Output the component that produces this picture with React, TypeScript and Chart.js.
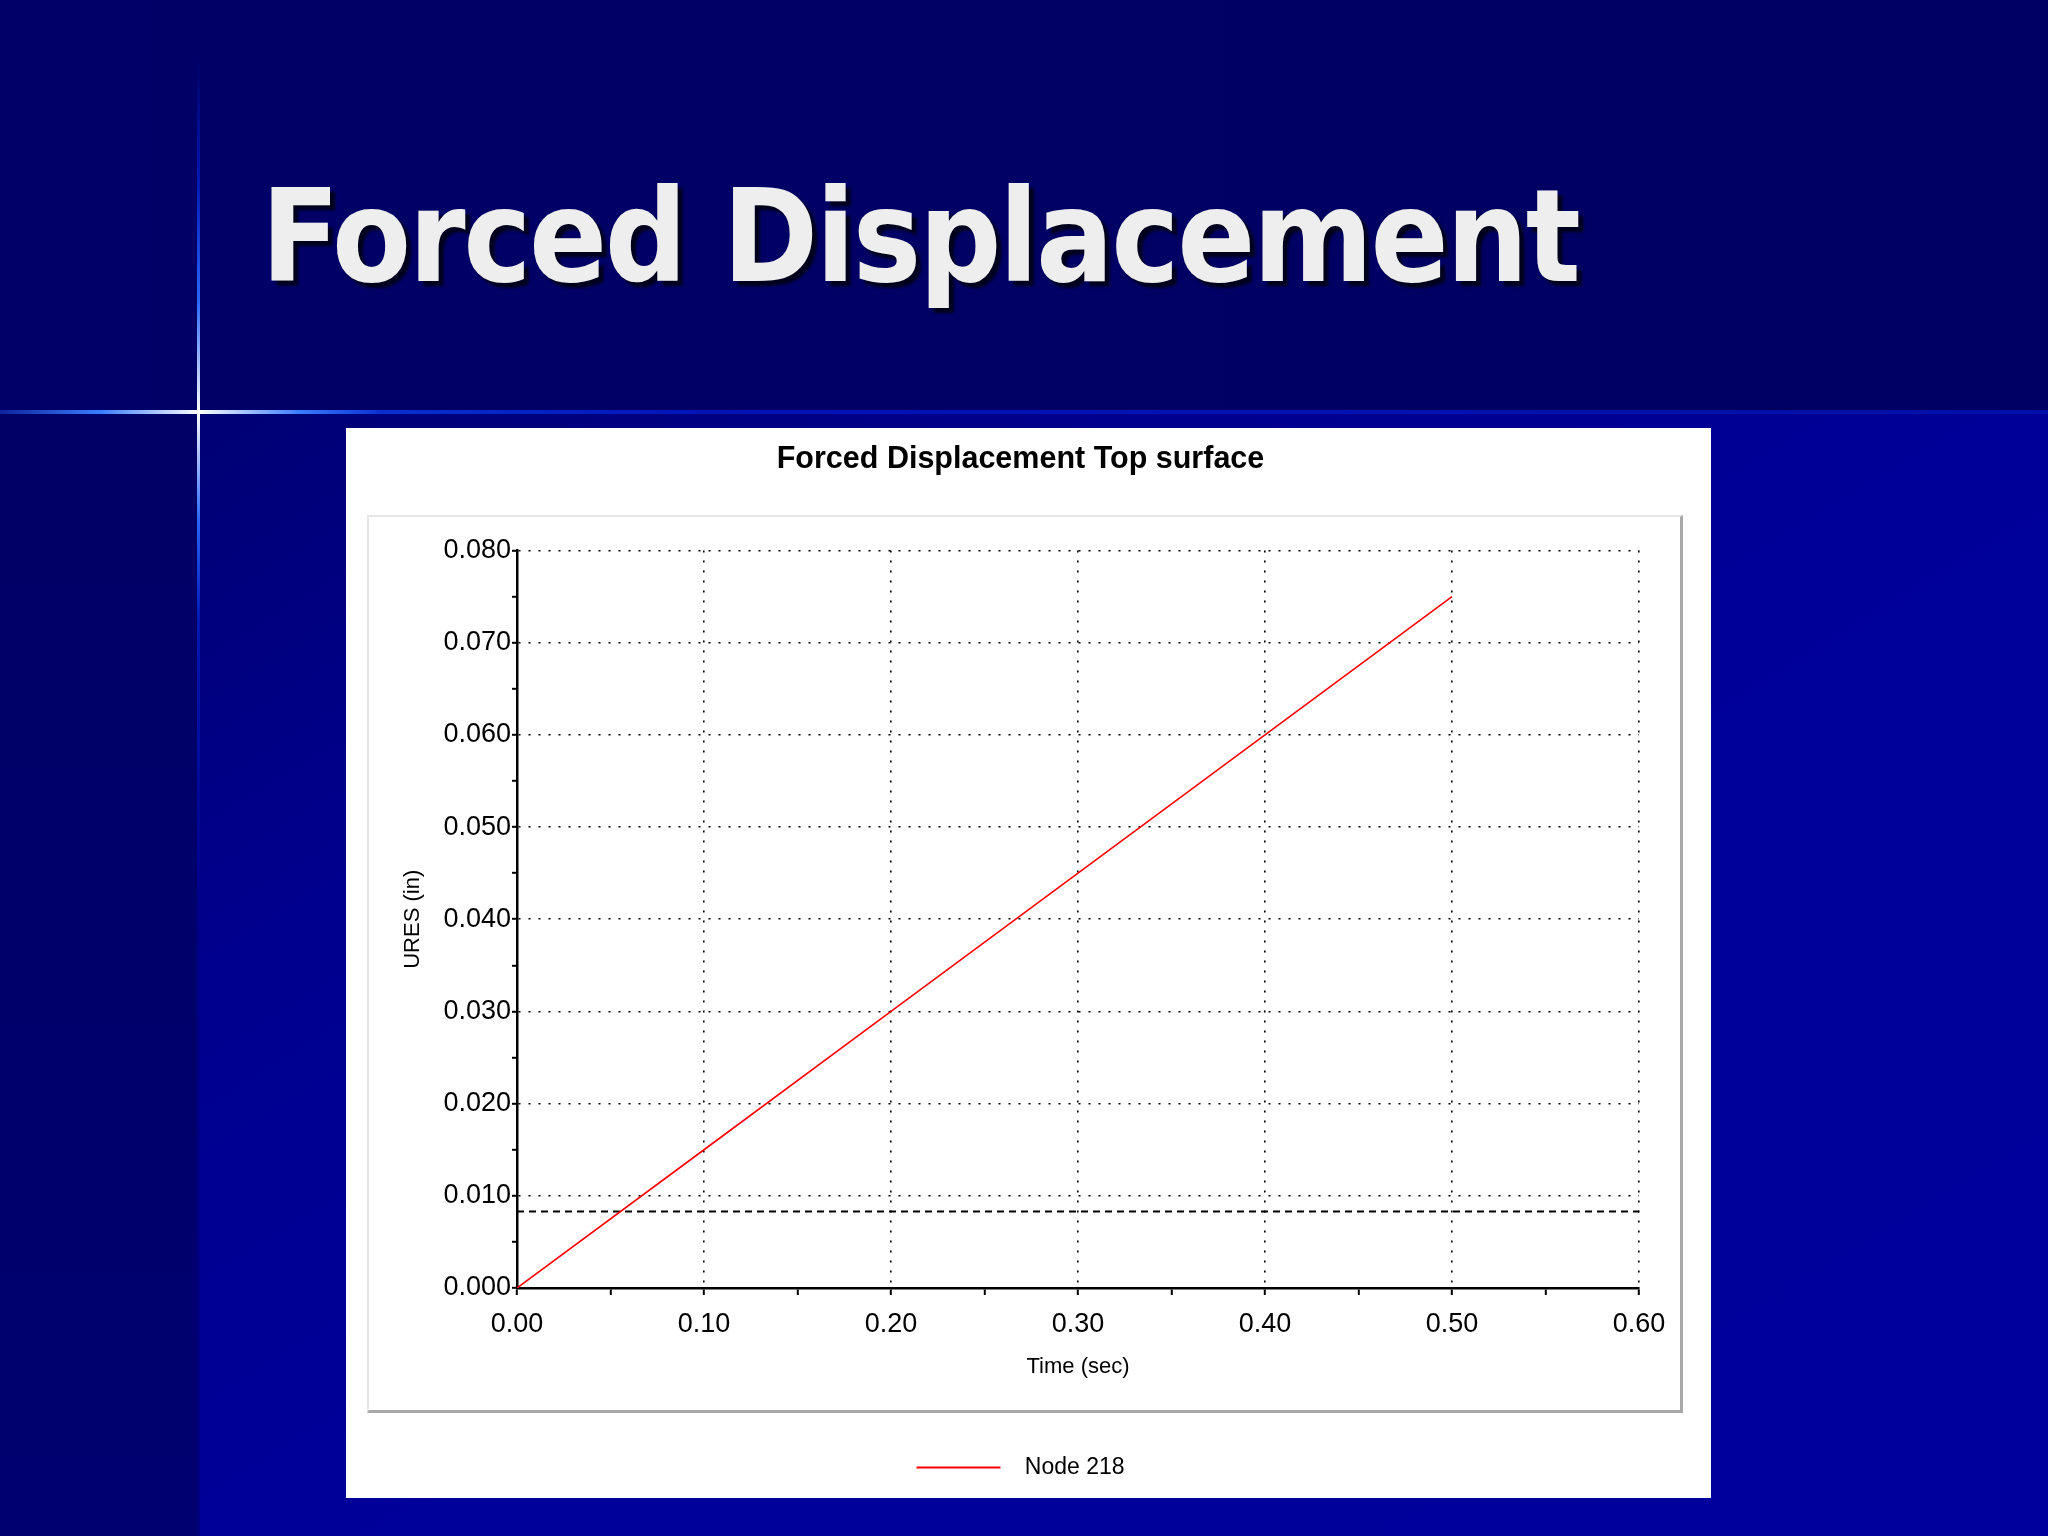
import React, { useEffect, useRef } from 'react';
import { Chart, registerables } from 'chart.js';

Chart.register(...registerables);

// ---- data ----
const TIME_SEC = [0, 0.1, 0.2, 0.3, 0.4, 0.5];
const URES_IN = [0, 0.015, 0.03, 0.045, 0.06, 0.075];
const LIMIT_X = [0, 0.6];
const LIMIT_Y = [0.0083, 0.0083];

const X_TICKS = [0, 0.05, 0.1, 0.15, 0.2, 0.25, 0.3, 0.35, 0.4, 0.45, 0.5, 0.55, 0.6];
const X_MAJOR = [0, 0.1, 0.2, 0.3, 0.4, 0.5, 0.6];
const Y_TICKS = [0, 0.005, 0.01, 0.015, 0.02, 0.025, 0.03, 0.035, 0.04, 0.045, 0.05, 0.055, 0.06, 0.065, 0.07, 0.075, 0.08];
const Y_MAJOR = [0, 0.01, 0.02, 0.03, 0.04, 0.05, 0.06, 0.07, 0.08];

const SERIES_LABEL = 'Node 218';
const CHART_TITLE = 'Forced Displacement Top surface';
const X_TITLE = 'Time (sec)';
const Y_TITLE = 'URES (in)';
const SLIDE_TITLE = 'Forced Displacement';

const isIn = (list: number[], v: number) => list.some((m) => Math.abs(m - v) < 1e-9);

const FONT = "'Liberation Sans', Arial, sans-serif";

export default function App() {
  const ref = useRef<HTMLCanvasElement>(null);

  useEffect(() => {
    if (!ref.current) return;
    const chart = new Chart(ref.current, {
      type: 'line',
      data: {
        datasets: [
          {
            label: SERIES_LABEL,
            data: TIME_SEC.map((t, i) => ({ x: t, y: URES_IN[i] })),
            borderColor: '#ff0000',
            backgroundColor: '#ff0000',
            borderWidth: 1.6,
            pointRadius: 0,
            tension: 0,
          },
          {
            label: 'limit',
            data: LIMIT_X.map((t, i) => ({ x: t, y: LIMIT_Y[i] })),
            borderColor: '#000000',
            backgroundColor: '#000000',
            borderWidth: 2,
            borderDash: [7, 5],
            pointRadius: 0,
            tension: 0,
          },
        ],
      },
      options: {
        responsive: false,
        animation: false,
        devicePixelRatio: 1,
        layout: { padding: { left: 56, right: 72, top: 0, bottom: 9 } },
        plugins: {
          title: {
            display: true,
            text: CHART_TITLE,
            color: '#000',
            font: { family: FONT, size: 30.5, weight: 'bold' },
            padding: { top: 13, bottom: 73 },
          },
          legend: {
            display: true,
            position: 'bottom',
            labels: {
              color: '#000',
              font: { family: FONT, size: 23 },
              boxWidth: 84,
              boxHeight: 2,
              padding: 10,
              generateLabels: () => [
                {
                  text: '  ' + SERIES_LABEL,
                  fillStyle: '#ff0000',
                  strokeStyle: '#ff0000',
                  lineWidth: 0,
                  hidden: false,
                  datasetIndex: 0,
                  fontColor: '#000',
                },
              ],
            },
          },
          tooltip: { enabled: false },
        },
        scales: {
          x: {
            type: 'linear',
            min: 0,
            max: 0.6,
            afterBuildTicks: (axis: any) => {
              axis.ticks = X_TICKS.map((v) => ({ value: v }));
            },
            afterFit: (axis: any) => {
              axis.height = 158;
            },
            ticks: {
              autoSkip: false,
              maxRotation: 0,
              color: '#000',
              font: { family: FONT, size: 27 },
              padding: 13,
              callback: (v: any) => (isIn(X_MAJOR, Number(v)) ? Number(v).toFixed(2) : ''),
            },
            grid: {
              color: (ctx: any) => (ctx.tick && isIn(X_MAJOR, ctx.tick.value) ? '#000' : 'rgba(0,0,0,0)'),
              lineWidth: 1.6,
              tickColor: '#000',
              tickLength: 7,
              tickWidth: 2,
            },
            border: { display: true, color: '#000', width: 2.5, dash: [2, 8] },
            title: {
              display: true,
              text: X_TITLE,
              color: '#000',
              font: { family: FONT, size: 22 },
              padding: { top: 0, bottom: 66 },
            },
          },
          y: {
            type: 'linear',
            min: 0,
            max: 0.08,
            afterBuildTicks: (axis: any) => {
              axis.ticks = Y_TICKS.map((v) => ({ value: v }));
            },
            afterFit: (axis: any) => {
              axis.width = 115;
            },
            ticks: {
              autoSkip: false,
              color: '#000',
              font: { family: FONT, size: 27 },
              padding: 1,
              callback: (v: any) => (isIn(Y_MAJOR, Number(v)) ? Number(v).toFixed(3) : ''),
            },
            grid: {
              color: (ctx: any) => (ctx.tick && isIn(Y_MAJOR, ctx.tick.value) ? '#000' : 'rgba(0,0,0,0)'),
              lineWidth: 1.6,
              tickColor: '#000',
              tickLength: 5,
              tickWidth: 2,
            },
            border: { display: true, color: '#000', width: 2.5, dash: [2, 8] },
            title: {
              display: true,
              text: Y_TITLE,
              color: '#000',
              font: { family: FONT, size: 22 },
              padding: { top: -2, bottom: 0 },
            },
          },
        },
      } as any,
    });
    return () => chart.destroy();
  }, []);

  return (
    <div
      style={{
        position: 'fixed',
        left: 0,
        top: 0,
        width: 2048,
        height: 1536,
        overflow: 'hidden',
        background: '#000066',
      }}
    >
      {/* top band */}
      <div
        style={{
          position: 'absolute',
          left: 0,
          top: 0,
          width: 2048,
          height: 412,
          background: 'linear-gradient(to right, #000068, #000062)',
        }}
      />
      {/* lower main area */}
      <div
        style={{
          position: 'absolute',
          left: 198,
          top: 412,
          width: 1850,
          height: 1124,
          background: 'linear-gradient(to bottom right, #000074 0%, #00008e 25%, #00009a 55%, #00009c 100%)',
        }}
      />
      {/* lower left strip */}
      <div
        style={{
          position: 'absolute',
          left: 0,
          top: 412,
          width: 198,
          height: 1124,
          background: 'linear-gradient(to bottom, #000066, #000070)',
        }}
      />
      {/* horizontal glow line */}
      <div
        style={{
          position: 'absolute',
          left: 0,
          top: 410,
          width: 2048,
          height: 4,
          background:
            'linear-gradient(to right, rgba(40,100,255,0.35) 0px, #3a7cff 100px, #ffffff 199px, #3a7cff 300px, #0a30d0 380px, #0014b8 700px, #0010a8 2048px)',
        }}
      />
      {/* vertical glow line */}
      <div
        style={{
          position: 'absolute',
          left: 197,
          top: 0,
          width: 3,
          height: 1536,
          background:
            'linear-gradient(to bottom, rgba(0,0,160,0) 60px, #0018b0 180px, #2a66ff 300px, #ffffff 412px, #2a66ff 520px, #0018b0 620px, #000088 900px, #00007c 1536px)',
        }}
      />
      {/* slide title */}
      <div
        style={{
          position: 'absolute',
          left: 261,
          top: 173,
          fontFamily: "'DejaVu Sans Condensed', 'DejaVu Sans', Verdana, sans-serif",
          fontStretch: 'condensed',
          fontWeight: 'bold',
          fontSize: 128,
          letterSpacing: -2.4,
          lineHeight: 1,
          color: '#eeeeee',
          whiteSpace: 'nowrap',
          textShadow: '5px 5px 3px rgba(0,0,20,0.9)',
        }}
      >
        {SLIDE_TITLE}
      </div>
      {/* chart panel */}
      <div
        style={{
          position: 'absolute',
          left: 346,
          top: 428,
          width: 1365,
          height: 1070,
          background: '#ffffff',
        }}
      >
        <div
          style={{
            position: 'absolute',
            left: 21,
            top: 87,
            width: 1311,
            height: 893,
            borderTop: '2px solid #e6e6e6',
            borderLeft: '2px solid #e6e6e6',
            borderRight: '3px solid #a8a8a8',
            borderBottom: '3px solid #a8a8a8',
          }}
        />
        <canvas
          ref={ref}
          width={1365}
          height={1070}
          style={{ position: 'absolute', left: 0, top: 0, width: 1365, height: 1070 }}
        />
      </div>
    </div>
  );
}
